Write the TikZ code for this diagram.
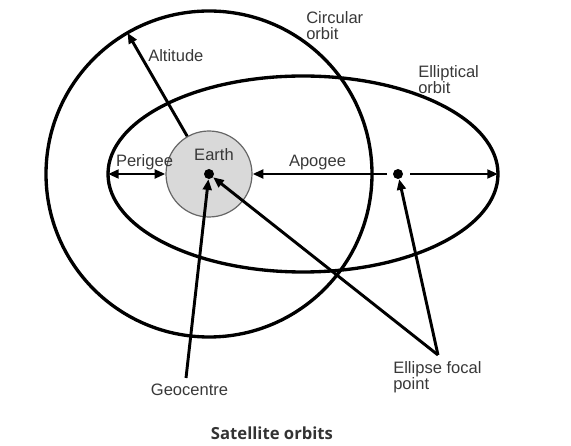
\documentclass[tikz,border=0pt]{standalone}
\usepackage{fontspec}
\setmainfont{Liberation Sans}
\newfontfamily\titlefont{Open Sans}
\usetikzlibrary{arrows.meta}
\usetikzlibrary{calc}

\begin{document}
\begin{tikzpicture}
[x=0.75pt,y=0.75pt,
every node/.style={font=\fontsize{12.4}{12.6}\selectfont,text=black!78,inner sep=0pt},
orbit/.style={line width=2.5pt},
pointer/.style={line width=2.2pt,-{Triangle[length=8pt,width=6.5pt]}},
dot/.style={circle,fill=black,minimum size=7.5pt},
earthball/.style={circle,draw=black!60,line width=0.9pt,fill=black!15,minimum size=64.5pt}]

\useasboundingbox (0,0) rectangle (571,446);

\node[earthball] (Earth) at (209,272) {};
\node[dot] (Geocentre) at (209,272) {};
\node[dot] (Focus) at (398,272) {};

% the two orbits
\draw[orbit] (Geocentre) circle (163);
\draw[orbit] (303,272) ellipse (195 and 98);

\coordinate (PerigeeEnd) at (108,272);
\coordinate (ApogeeEnd) at (498,272);
\coordinate (ApogeeGapL) at (387,272);
\coordinate (ApogeeGapR) at (410,272);
\coordinate (AltitudeEnd) at ($(Geocentre)+(120:163)$);
\coordinate (GeoFoot) at (186,68);
\coordinate (FocalFoot) at (438,91);

\draw[pointer,{Triangle[length=8pt,width=6.5pt]}-{Triangle[length=8pt,width=6.5pt]}] (PerigeeEnd) -- (Earth.west);
\draw[pointer] (ApogeeGapL) -- (Earth.east);
\draw[pointer] (ApogeeGapR) -- (ApogeeEnd);
\draw[pointer] (Earth.120) -- (AltitudeEnd);
\draw[pointer] (GeoFoot) -- (Geocentre);
\draw[pointer] (FocalFoot) -- (Geocentre);
\draw[pointer] (FocalFoot) -- (Focus);

\node[anchor=base west] (AltitudeLabel) at (148,384) {Altitude};
\node[anchor=base] (EarthLabel) at (214,285) {Earth};
\node[anchor=base] (PerigeeLabel) at (144.5,279) {Perigee};
\node[anchor=base] (ApogeeLabel) at (317.5,279) {Apogee};
\node[anchor=base] (GeocentreLabel) at (189.5,50) {Geocentre};
% base of a two-line node is the last line
\node[anchor=base west,align=left] (CircularLabel) at (306,406) {Circular\\orbit};
\node[anchor=base west,align=left] (EllipticalLabel) at (418,352) {Elliptical\\orbit};
\node[anchor=base west,align=left] (FocalLabel) at (393,56) {Ellipse focal\\point};
\node[anchor=base,font=\titlefont\bfseries\fontsize{12.5}{13}\selectfont,text=black!80] (Title) at (272,6) {Satellite orbits};
\end{tikzpicture}
\end{document}
